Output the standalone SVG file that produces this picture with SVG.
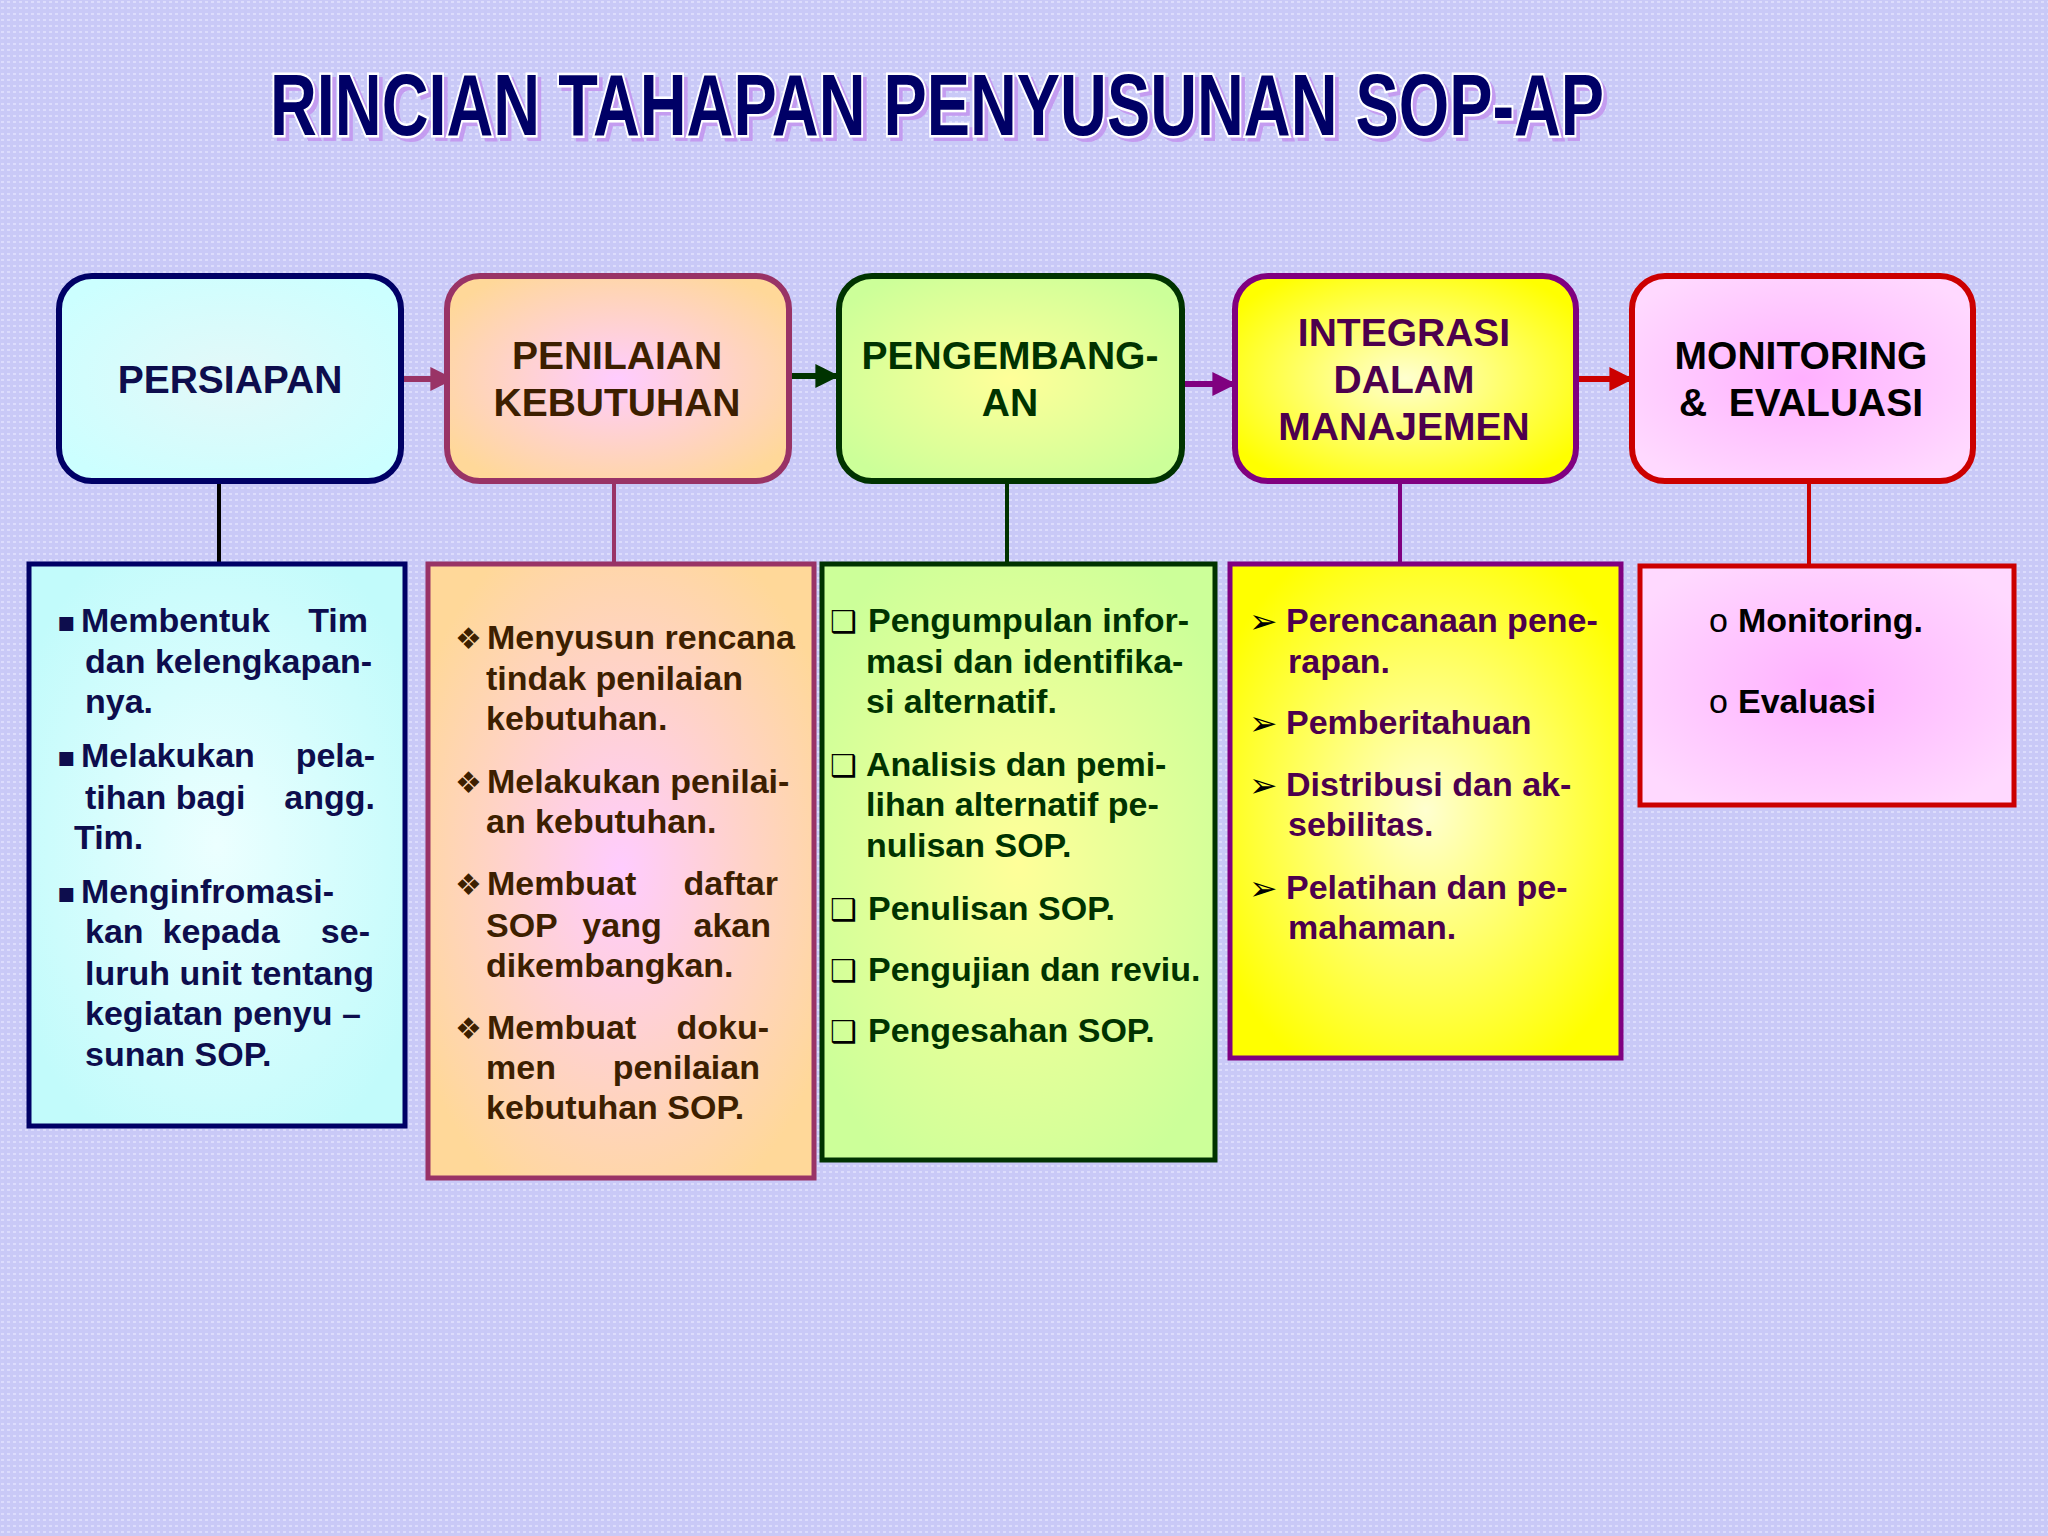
<svg xmlns="http://www.w3.org/2000/svg" width="2048" height="1536" viewBox="0 0 2048 1536">
<defs>
<pattern id="dots" width="6" height="6" patternUnits="userSpaceOnUse">
<rect width="6" height="6" fill="#c9c9f7"/>
<rect x="1" y="1" width="3" height="2" fill="#dcdcfc"/>
</pattern>
<radialGradient id="gCyan" cx="0.5" cy="0.5" r="0.6"><stop offset="0" stop-color="#e4f8f8"/><stop offset="1" stop-color="#ccffff"/></radialGradient>
<radialGradient id="gCyan2" cx="0.5" cy="0.5" r="0.6"><stop offset="0" stop-color="#ecffff"/><stop offset="1" stop-color="#c2fbfb"/></radialGradient>
<radialGradient id="gPeach" cx="0.5" cy="0.5" r="0.6"><stop offset="0" stop-color="#ffccff"/><stop offset="1" stop-color="#ffd899"/></radialGradient>
<radialGradient id="gGreen" cx="0.5" cy="0.5" r="0.6"><stop offset="0" stop-color="#ffff99"/><stop offset="1" stop-color="#ccff99"/></radialGradient>
<radialGradient id="gYellow" cx="0.5" cy="0.5" r="0.6"><stop offset="0" stop-color="#ffffd0"/><stop offset="1" stop-color="#ffff00"/></radialGradient>
<radialGradient id="gPink" cx="0.5" cy="0.5" r="0.6"><stop offset="0" stop-color="#ffb0ff"/><stop offset="1" stop-color="#ffd9ff"/></radialGradient>
<marker id="aM" viewBox="0 0 10 10" refX="9" refY="5" markerWidth="4" markerHeight="5" orient="auto" markerUnits="strokeWidth"><path d="M0,0 L10,5 L0,10 z" fill="#993366"/></marker>
<marker id="aG" viewBox="0 0 10 10" refX="9" refY="5" markerWidth="4" markerHeight="5" orient="auto" markerUnits="strokeWidth"><path d="M0,0 L10,5 L0,10 z" fill="#003300"/></marker>
<marker id="aP" viewBox="0 0 10 10" refX="9" refY="5" markerWidth="4" markerHeight="5" orient="auto" markerUnits="strokeWidth"><path d="M0,0 L10,5 L0,10 z" fill="#800080"/></marker>
<marker id="aR" viewBox="0 0 10 10" refX="9" refY="5" markerWidth="4" markerHeight="5" orient="auto" markerUnits="strokeWidth"><path d="M0,0 L10,5 L0,10 z" fill="#cc0000"/></marker>
</defs>
<style>
text{font-family:"Liberation Sans",Arial,sans-serif;font-weight:bold;}
.hd{font-size:39px;text-anchor:middle;}
.bd{font-size:34px;}
.pre{white-space:pre;}
.bl{font-family:"DejaVu Sans",sans-serif;font-weight:normal;}
.top{stroke-width:6;}
.det{stroke-width:5;}
.con{stroke-width:4;fill:none;}
.arr{stroke-width:6;fill:none;}
</style>
<rect width="2048" height="1536" fill="url(#dots)"/>

<g id="title">
<text transform="translate(274,139) scale(0.7318,1)" x="0" y="0" font-size="88" textLength="1823" lengthAdjust="spacingAndGlyphs" fill="#c49cf0" stroke="#c49cf0" stroke-width="4">RINCIAN TAHAPAN PENYUSUNAN SOP-AP</text>
<text transform="translate(270,135) scale(0.7318,1)" x="0" y="0" font-size="88" textLength="1823" lengthAdjust="spacingAndGlyphs" fill="#000066" stroke="#ffffff" stroke-width="5" paint-order="stroke">RINCIAN TAHAPAN PENYUSUNAN SOP-AP</text>
</g>

<g id="connectors">
<line class="arr" x1="401" y1="379" x2="452" y2="379" stroke="#993366" marker-end="url(#aM)"/>
<line class="arr" x1="789" y1="376" x2="837" y2="376" stroke="#003300" marker-end="url(#aG)"/>
<line class="arr" x1="1182" y1="384" x2="1234" y2="384" stroke="#800080" marker-end="url(#aP)"/>
<line class="arr" x1="1576" y1="379" x2="1631" y2="379" stroke="#cc0000" marker-end="url(#aR)"/>
<line class="con" x1="219" y1="481" x2="219" y2="564" stroke="#000000"/>
<line class="con" x1="614" y1="481" x2="614" y2="564" stroke="#993366"/>
<line class="con" x1="1007" y1="481" x2="1007" y2="564" stroke="#003300"/>
<line class="con" x1="1400" y1="481" x2="1400" y2="564" stroke="#800080"/>
<line class="con" x1="1809" y1="481" x2="1809" y2="566" stroke="#cc0000"/>
</g>

<g id="node-persiapan">
<rect class="top" x="59" y="276" width="342" height="205" rx="33" fill="url(#gCyan)" stroke="#000066"/>
<text class="hd" x="230" y="393" fill="#0d0d4d">PERSIAPAN</text>
</g>
<g id="node-penilaian">
<rect class="top" x="447" y="276" width="342" height="205" rx="33" fill="url(#gPeach)" stroke="#993366"/>
<text class="hd" x="617" y="369" fill="#3d1f00">PENILAIAN</text>
<text class="hd" x="617" y="416" fill="#3d1f00">KEBUTUHAN</text>
</g>
<g id="node-pengembangan">
<rect class="top" x="839" y="276" width="343" height="205" rx="33" fill="url(#gGreen)" stroke="#003300"/>
<text class="hd" x="1010" y="369" fill="#003300">PENGEMBANG-</text>
<text class="hd" x="1010" y="416" fill="#003300">AN</text>
</g>
<g id="node-integrasi">
<rect class="top" x="1235" y="276" width="341" height="205" rx="33" fill="url(#gYellow)" stroke="#800080"/>
<text class="hd" x="1404" y="346" fill="#4d004d">INTEGRASI</text>
<text class="hd" x="1404" y="393" fill="#4d004d">DALAM</text>
<text class="hd" x="1404" y="440" fill="#4d004d">MANAJEMEN</text>
</g>
<g id="node-monitoring">
<rect class="top" x="1632" y="276" width="341" height="205" rx="33" fill="url(#gPink)" stroke="#cc0000"/>
<text class="hd" x="1801" y="369" fill="#000000">MONITORING</text>
<text class="hd pre" x="1801" y="416" fill="#000000">&amp;  EVALUASI</text>
</g>

<g id="detail-persiapan" fill="#0d0d4d">
<rect class="det" x="29" y="564" width="376" height="562" fill="url(#gCyan2)" stroke="#000066"/>
<g class="bd">
<text class="bl" x="57" y="631" font-size="28">▪</text>
<text x="81" y="632">Membentuk</text><text x="368" y="632" text-anchor="end">Tim</text>
<text x="85" y="673">dan kelengkapan-</text>
<text x="85" y="713">nya.</text>
<text class="bl" x="57" y="766" font-size="28">▪</text>
<text x="81" y="767">Melakukan</text><text x="375" y="767" text-anchor="end">pela-</text>
<text x="85" y="809">tihan bagi</text><text x="375" y="809" text-anchor="end">angg.</text>
<text x="74" y="849">Tim.</text>
<text class="bl" x="57" y="902" font-size="28">▪</text>
<text x="81" y="903">Menginfromasi-</text>
<text x="85" y="943" class="pre">kan  kepada</text><text x="370" y="943" text-anchor="end">se-</text>
<text x="85" y="985">luruh unit tentang</text>
<text x="85" y="1025">kegiatan penyu –</text>
<text x="85" y="1066">sunan SOP.</text>
</g>
</g>

<g id="detail-penilaian" fill="#3d1f00">
<rect class="det" x="428" y="564" width="386" height="614" fill="url(#gPeach)" stroke="#993366"/>
<g class="bd">
<text class="bl" x="455" y="649" font-size="30">❖</text>
<text x="487" y="649">Menyusun rencana</text>
<text x="486" y="690">tindak penilaian</text>
<text x="486" y="730">kebutuhan.</text>
<text class="bl" x="455" y="793" font-size="30">❖</text>
<text x="487" y="793">Melakukan penilai-</text>
<text x="486" y="833">an kebutuhan.</text>
<text class="bl" x="455" y="895" font-size="30">❖</text>
<text x="487" y="895">Membuat</text><text x="778" y="895" text-anchor="end">daftar</text>
<text x="486" y="937">SOP</text><text x="622" y="937" text-anchor="middle">yang</text><text x="771" y="937" text-anchor="end">akan</text>
<text x="486" y="977">dikembangkan.</text>
<text class="bl" x="455" y="1039" font-size="30">❖</text>
<text x="487" y="1039">Membuat</text><text x="769" y="1039" text-anchor="end">doku-</text>
<text x="486" y="1079">men</text><text x="760" y="1079" text-anchor="end">penilaian</text>
<text x="486" y="1119">kebutuhan SOP.</text>
</g>
</g>

<g id="detail-pengembangan" fill="#003300">
<rect class="det" x="822" y="564" width="393" height="596" fill="url(#gGreen)" stroke="#003300"/>
<g class="bd">
<text class="bl" x="830" y="632" font-size="30" fill="#000000">❑</text>
<text x="868" y="632">Pengumpulan infor-</text>
<text x="866" y="673">masi dan identifika-</text>
<text x="866" y="713">si alternatif.</text>
<text class="bl" x="830" y="776" font-size="30" fill="#000000">❑</text>
<text x="866" y="776">Analisis dan pemi-</text>
<text x="866" y="816">lihan alternatif pe-</text>
<text x="866" y="857">nulisan SOP.</text>
<text class="bl" x="830" y="920" font-size="30" fill="#000000">❑</text>
<text x="868" y="920">Penulisan SOP.</text>
<text class="bl" x="830" y="981" font-size="30" fill="#000000">❑</text>
<text x="868" y="981">Pengujian dan reviu.</text>
<text class="bl" x="830" y="1042" font-size="30" fill="#000000">❑</text>
<text x="868" y="1042">Pengesahan SOP.</text>
</g>
</g>

<g id="detail-integrasi" fill="#4d004d">
<rect class="det" x="1230" y="564" width="391" height="494" fill="url(#gYellow)" stroke="#800080"/>
<g class="bd">
<text class="bl" x="1249" y="633" font-size="34" fill="#000000">➢</text>
<text x="1286" y="632">Perencanaan pene-</text>
<text x="1288" y="673">rapan.</text>
<text class="bl" x="1249" y="735" font-size="34" fill="#000000">➢</text>
<text x="1286" y="734">Pemberitahuan</text>
<text class="bl" x="1249" y="797" font-size="34" fill="#000000">➢</text>
<text x="1286" y="796">Distribusi dan ak-</text>
<text x="1288" y="836">sebilitas.</text>
<text class="bl" x="1249" y="900" font-size="34" fill="#000000">➢</text>
<text x="1286" y="899">Pelatihan dan pe-</text>
<text x="1288" y="939">mahaman.</text>
</g>
</g>

<g id="detail-monitoring" fill="#000000">
<rect class="det" x="1640" y="566" width="374" height="239" fill="url(#gPink)" stroke="#cc0000"/>
<g class="bd">
<text x="1709" y="632" style="font-weight:normal">o</text>
<text x="1738" y="632">Monitoring.</text>
<text x="1709" y="713" style="font-weight:normal">o</text>
<text x="1738" y="713">Evaluasi</text>
</g>
</g>
</svg>
